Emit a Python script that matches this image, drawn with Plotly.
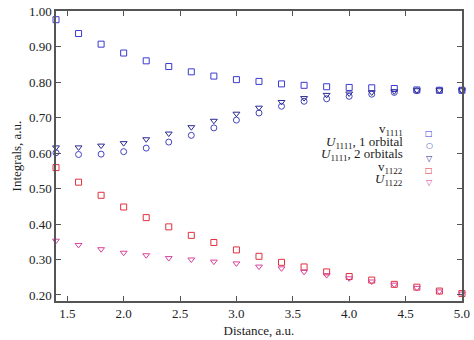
import plotly.graph_objects as go

distance = [1.4, 1.6, 1.8, 2.0, 2.2, 2.4, 2.6, 2.8, 3.0, 3.2, 3.4, 3.6, 3.8, 4.0, 4.2, 4.4, 4.6, 4.8, 5.0]
v1111 = [0.976, 0.937, 0.907, 0.882, 0.860, 0.844, 0.829, 0.817, 0.807, 0.802, 0.795, 0.791, 0.787, 0.785, 0.784, 0.782, 0.778, 0.777, 0.777]
u1111_1orb = [0.601, 0.596, 0.597, 0.604, 0.614, 0.631, 0.650, 0.671, 0.693, 0.713, 0.732, 0.746, 0.753, 0.760, 0.766, 0.771, 0.776, 0.777, 0.777]
u1111_2orb = [0.616, 0.616, 0.621, 0.628, 0.639, 0.655, 0.673, 0.691, 0.711, 0.728, 0.744, 0.755, 0.764, 0.768, 0.771, 0.774, 0.777, 0.777, 0.777]
v1122 = [0.559, 0.518, 0.481, 0.448, 0.418, 0.392, 0.368, 0.348, 0.327, 0.309, 0.292, 0.279, 0.265, 0.252, 0.242, 0.230, 0.222, 0.211, 0.204]
u1122 = [0.353, 0.341, 0.329, 0.319, 0.312, 0.304, 0.300, 0.294, 0.289, 0.280, 0.275, 0.265, 0.256, 0.247, 0.238, 0.229, 0.220, 0.210, 0.204]

series = [
    ("v<sub>1111</sub>", v1111, "square-open", "#3a3ad2", "□"),
    ("<i>U</i><sub>1111</sub>, 1 orbital", u1111_1orb, "circle-open", "#4444c0", "○"),
    ("<i>U</i><sub>1111</sub>, 2 orbitals", u1111_2orb, "triangle-down-open", "#2a2a90", "▽"),
    ("v<sub>1122</sub>", v1122, "square-open", "#e0303c", "□"),
    ("<i>U</i><sub>1122</sub>", u1122, "triangle-down-open", "#d6449a", "▽"),
]

fig = go.Figure()
for name, ys, sym, col, glyph in series:
    fig.add_trace(go.Scatter(
        x=distance, y=ys, mode="markers", name=name, showlegend=False,
        marker=dict(symbol=sym, size=6, color=col, line=dict(width=1, color=col)),
        cliponaxis=False,
    ))

leg_y = [0.590, 0.548, 0.505, 0.461, 0.420]
annotations = []
for (name, ys, sym, col, glyph), yy in zip(series, leg_y):
    annotations.append(dict(x=0.8585, y=yy, xref="paper", yref="paper", text=name,
                            showarrow=False, xanchor="right", yanchor="middle",
                            font=dict(family="Liberation Serif", size=13, color="#222")))
    annotations.append(dict(x=0.9195, y=yy - 0.012, xref="paper", yref="paper", text=glyph,
                            showarrow=False, xanchor="center", yanchor="middle",
                            font=dict(family="DejaVu Sans", size=8, color=col)))

axis_common = dict(showline=True, linecolor="#555", linewidth=1.5, mirror="ticks",
                   ticks="inside", ticklen=5, tickcolor="#555", tickwidth=1.2,
                   showgrid=False, zeroline=False, ticklabeloverflow="allow",
                   tickfont=dict(family="Liberation Serif", size=13, color="#222"))

fig.update_layout(
    width=474, height=340,
    margin=dict(l=56, r=8, t=4, b=38),
    plot_bgcolor="white", paper_bgcolor="white",
    xaxis=dict(range=[1.4, 5.0005], tickvals=[1.5, 2.0, 2.5, 3.0, 3.5, 4.0, 4.5, 5.0],
               tickformat=".1f",
               title=dict(text="Distance, a.u.", standoff=6,
                          font=dict(family="Liberation Serif", size=13, color="#222")),
               **axis_common),
    yaxis=dict(range=[0.183, 1.0005], tickvals=[0.2, 0.3, 0.4, 0.5, 0.6, 0.7, 0.8, 0.9, 1.0],
               tickformat=".2f",
               title=dict(text="Integrals, a.u.", standoff=4,
                          font=dict(family="Liberation Serif", size=13, color="#222")),
               **axis_common),
    annotations=annotations,
)

fig.write_html("out.html")
